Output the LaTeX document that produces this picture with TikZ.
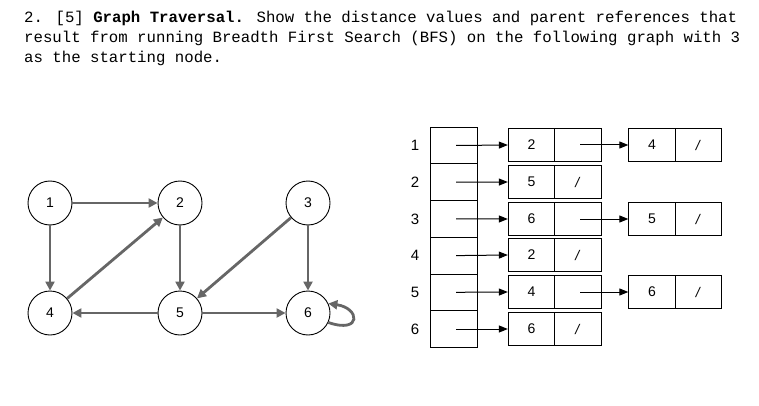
\documentclass[tikz,border=0pt]{standalone}
\usepackage{fontspec}
\setmainfont{Liberation Sans}
\newfontfamily\monof{Liberation Mono}
\usetikzlibrary{arrows.meta}
\begin{document}
\begin{tikzpicture}[x=1pt,y=-1pt,
  vert/.style={draw,circle,line width=0.9pt,minimum size=44pt,inner sep=0pt,font=\fontsize{14}{14}\selectfont},
  edge/.style={draw=black!60,line width=2.8pt,-{Triangle[length=9pt,width=9pt]}},
  cell/.style={draw,line width=0.8pt,minimum width=46.5pt,minimum height=33pt,inner sep=0pt,font=\fontsize{14}{14}\selectfont},
  slot/.style={draw,line width=0.8pt,minimum width=47pt,minimum height=36.7pt,inner sep=0pt},
  ptr/.style={-{Triangle[length=9pt,width=7pt]},line width=1pt},
  lab/.style={font=\fontsize{15}{15}\selectfont}]
\useasboundingbox (0,0) rectangle (759,406);
\node[anchor=west,font=\monof\fontsize{15.7}{20}\selectfont,align=left,inner sep=0pt] (hdr) at (24,38)
{2. [5] \textbf{Graph Traversal.} Show the distance values and parent references that\\
result from running Breadth First Search (BFS) on the following graph with 3\\
as the starting node.};
% graph
\node[vert] (v1) at (50,203) {1};
\node[vert] (v2) at (180,203) {2};
\node[vert] (v3) at (308,203) {3};
\node[vert] (v4) at (50,313) {4};
\node[vert] (v5) at (180,313) {5};
\node[vert] (v6) at (308,313) {6};
\draw[edge] (v1) -- (v2);
\draw[edge] (v1) -- (v4);
\draw[edge] (v4) -- (v2);
\draw[edge] (v2) -- (v5);
\draw[edge] (v3) -- (v5);
\draw[edge] (v3) -- (v6);
\draw[edge] (v5) -- (v4);
\draw[edge] (v5) -- (v6);
\draw[edge] (v6.-25) .. controls (362,334) and (360,308) .. (v6.25);
% adjacency array
\foreach \i/\y in {1/145.5,2/182.2,3/218.9,4/255.6,5/292.3,6/329}{
  \node[slot] (s\i) at (453.5,\y) {};
  \node[lab] (l\i) at (415,\y) {\i};
  \coordinate (p\i) at (456,\y);
}
% first list cells
\foreach \i/\y/\v/\n in {1/145/2/,2/182/5/\textit{/},3/219/6/,4/255/2/\textit{/},5/292/4/,6/329/6/\textit{/}}{
  \node[cell] (a\i) at (531.5,\y) {\v};
  \node[cell] (b\i) at (578,\y) {\n};
  \draw[ptr] (p\i) -- (a\i.west);
}
% second list cells
\foreach \i/\y/\v in {1/145/4,3/219/5,5/292/6}{
  \node[cell] (c\i) at (652,\y) {\v};
  \node[cell] (d\i) at (698.5,\y) {\textit{/}};
  \coordinate (q\i) at (580,\y);
  \draw[ptr] (q\i) -- (c\i.west);
}
\end{tikzpicture}
\end{document}
